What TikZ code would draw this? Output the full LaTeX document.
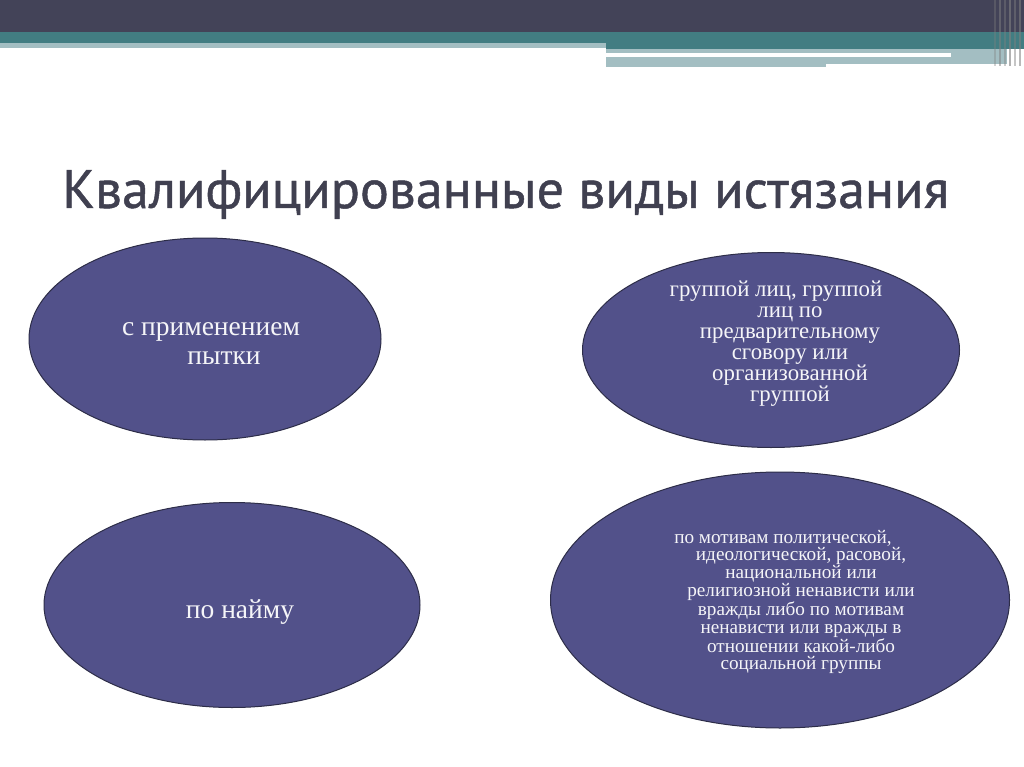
\documentclass[tikz,border=0pt]{standalone}
\usepackage{fontspec}
\setmainfont{Liberation Serif}
\newfontfamily\titlefont[FakeBold=0.9]{PT Sans}
\usetikzlibrary{shapes.geometric}

\definecolor{barDark}{RGB}{67,67,88}
\definecolor{barTeal}{RGB}{66,125,130}
\definecolor{barLight}{RGB}{163,190,194}
\definecolor{ovalFill}{RGB}{82,81,138}
\definecolor{ovalLine}{RGB}{45,45,72}
\definecolor{titleGray}{RGB}{64,64,80}

\begin{document}
\begin{tikzpicture}[x=1pt,y=-1pt,
    oval/.style={ellipse, draw=ovalLine, line width=1pt, fill=ovalFill},
    ovaltext/.style={text=white!94!ovalFill, inner sep=0pt, align=center},
    bigtxt/.style={font=\fontsize{27.5}{29}\selectfont},
    midtxt/.style={font=\fontsize{22.8}{21}\selectfont},
    smalltxt/.style={font=\fontsize{19.2}{17.8}\selectfont}]

    \useasboundingbox[fill=white] (0,0) rectangle (1024,767);

    % Header bars
    \fill[barDark]  (0,0)   rectangle (1024,32);
    \fill[barTeal]  (0,32)  rectangle (606,43);
    \fill[barTeal]  (606,32) rectangle (1024,49);
    \fill[barLight] (0,43)  rectangle (606,48);
    \fill[barLight] (606,49) rectangle (1007,67);
    \fill[white]    (606,53) rectangle (951,57);
    \fill[white]    (826,64) rectangle (1007,67);
    \foreach \x/\op in {995/.35,1000/.5,1005/.4,1010/.6,1015/.45,1020/.55}
      \draw[line width=1.5pt, gray, opacity=\op] (\x,0) -- (\x,66);

    % Title
    \node[anchor=base west, text=titleGray, inner sep=0pt,
      font=\titlefont\fontsize{54}{60}\selectfont] (title) at (62,208)
      {Квалифицированные виды истязания};

    % Define nodes
    \node[oval, minimum width=352, minimum height=202] (torture) at (205,339) {};
    \node[oval, minimum width=377, minimum height=195] (group)   at (771,350) {};
    \node[oval, minimum width=376, minimum height=205] (hire)    at (232,605) {};
    \node[oval, minimum width=459, minimum height=256] (hatred)  at (780,600) {};

    % Texts of the ovals
    \node[ovaltext, bigtxt] (torture-t) at (211,344)
      {с применением\\ \hspace*{26pt}пытки};
    \node[ovaltext, midtxt] (group-t) at (790,344)
      {группой лиц, группой\hspace*{28pt}\\ лиц по\hspace*{34pt}\\ предварительному\\
       сговору или\\ организованной\\ группой};
    \node[ovaltext, bigtxt] (hire-t) at (240,612) {по найму};
    \node[ovaltext, smalltxt] (hatred-t) at (801,602)
      {по мотивам политической,\hspace*{36pt}\\ идеологической, расовой,\\ национальной или\\
       религиозной ненависти или\\ вражды либо по мотивам\\ ненависти или вражды в\\
       отношении какой-либо\\ социальной группы};

\end{tikzpicture}
\end{document}
